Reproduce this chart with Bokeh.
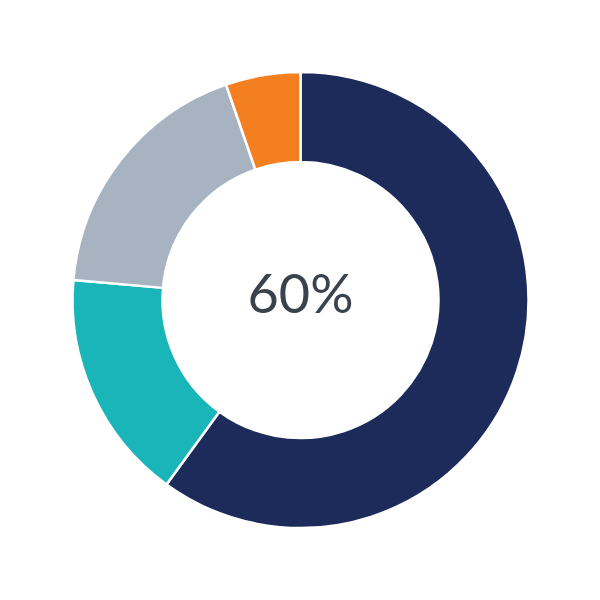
from math import pi

from bokeh.core.properties import value
from bokeh.embed import file_html
from bokeh.models import ColumnDataSource
from bokeh.plotting import figure
from bokeh.resources import INLINE

# segment shares (%), clockwise from 12 o'clock
labels = ["A", "B", "C", "D"]
shares = [60.0, 16.4, 18.3, 5.3]
colors = ["#1c2b5a", "#1ab5b8", "#a8b3c2", "#f47f20"]
center_label = "60%"

total = sum(shares)
starts, ends = [], []
acc = 0
for s in shares:
    # bokeh angles run counter-clockwise from +x; go clockwise from top
    starts.append(pi / 2 - 2 * pi * acc / total)
    acc += s
    ends.append(pi / 2 - 2 * pi * acc / total)

source = ColumnDataSource(
    dict(label=labels, share=shares, color=colors, start=starts, end=ends)
)

p = figure(
    width=592,
    height=592,
    x_range=(-300, 292),
    y_range=(-292.5, 299.5),
    output_backend="svg",
    toolbar_location=None,
    min_border=0,
    outline_line_color=None,
)
p.axis.visible = False
p.grid.visible = False

p.annular_wedge(
    x=0,
    y=0,
    inner_radius=138,
    outer_radius=228,
    start_angle="end",
    end_angle="start",
    fill_color="color",
    line_color="white",
    line_width=2.5,
    source=source,
)

p.text(
    x=[0],
    y=[8],
    text=[center_label],
    text_align="center",
    text_baseline="middle",
    text_font=value("Lato"),
    text_font_size="54px",
    text_color="#3a434c",
)

open("out.html", "w").write(file_html(p, INLINE))
